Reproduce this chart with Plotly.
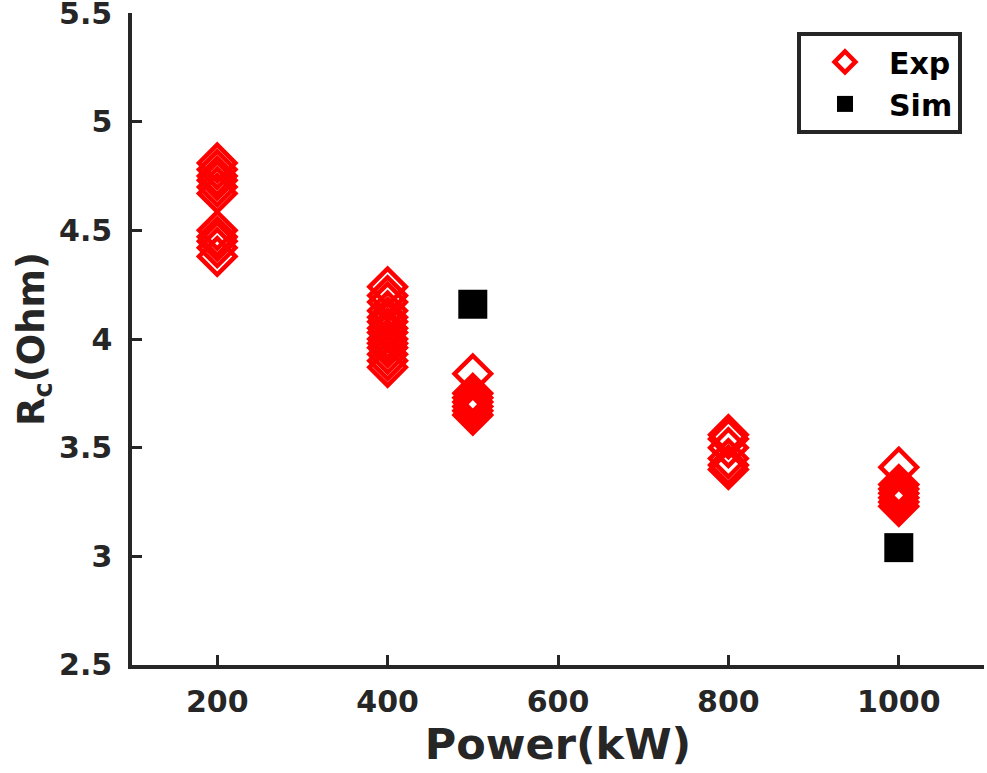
import plotly.graph_objects as go

# Experimental data (Power in kW, Rc in Ohm)
exp_power = ([200] * 11 + [400] * 14 + [500] * 7 + [800] * 6 + [1000] * 7)
exp_rc = [4.81, 4.78, 4.75, 4.73, 4.70, 4.67, 4.50, 4.47, 4.45, 4.42, 4.38,
          4.24, 4.20, 4.17, 4.13, 4.10, 4.08, 4.05, 4.03, 4.00, 3.98, 3.96, 3.93, 3.90, 3.87,
          3.84, 3.75, 3.73, 3.71, 3.69, 3.67, 3.65,
          3.56, 3.54, 3.50, 3.45, 3.42, 3.40,
          3.41, 3.33, 3.31, 3.29, 3.27, 3.25, 3.23]

# Simulation data
sim_power = [500, 1000]
sim_rc = [4.16, 3.04]

x_ticks = [200, 400, 600, 800, 1000]
y_ticks = [2.5, 3, 3.5, 4, 4.5, 5, 5.5]
y_ticktext = ["2.5", "3", "3.5", "4", "4.5", "5", "5.5"]

axis_color = "#262626"
font_family = "DejaVu Sans"

fig = go.Figure()
fig.add_trace(go.Scatter(
    x=exp_power, y=exp_rc, mode="markers", name="Exp",
    marker=dict(symbol="diamond-open", size=28, color="#ff0000",
                line=dict(width=4.5, color="#ff0000")),
))
fig.add_trace(go.Scatter(
    x=sim_power, y=sim_rc, mode="markers", name="Sim",
    marker=dict(symbol="square", size=29, color="#000000",
                line=dict(width=0)),
))

fig.update_layout(
    width=987, height=773,
    margin=dict(l=132, r=3, t=13, b=108),
    plot_bgcolor="white", paper_bgcolor="white",
    font=dict(family=font_family, color=axis_color, weight="bold"),
    legend=dict(
        x=0.7805, y=0.971, xanchor="left", yanchor="top",
        bordercolor=axis_color, borderwidth=4, bgcolor="white",
        font=dict(family=font_family, size=30, color="#000000", weight="bold"),
        itemwidth=78, tracegroupgap=0,
    ),
    xaxis=dict(
        range=[100, 1100], tickvals=x_ticks, automargin=False,
        showline=True, linewidth=3.5, linecolor=axis_color, mirror=False,
        ticks="inside", ticklen=10, tickwidth=3, tickcolor=axis_color,
        showgrid=False, zeroline=False,
        tickfont=dict(family=font_family, size=30, color=axis_color, weight="bold"),
        ticklabelstandoff=7,
        title=dict(text="Power(kW)", standoff=8,
                   font=dict(family=font_family, size=43, color=axis_color, weight="bold")),
    ),
    yaxis=dict(
        range=[2.4999, 5.5002], tickvals=y_ticks, ticktext=y_ticktext,
        automargin=False,
        showline=True, linewidth=3.5, linecolor=axis_color, mirror=False,
        ticks="inside", ticklen=10, tickwidth=3, tickcolor=axis_color,
        showgrid=False, zeroline=False, ticklabeloverflow="allow",
        tickfont=dict(family=font_family, size=30, color=axis_color, weight="bold"),
        ticklabelstandoff=10,
        title=dict(text="R<sub>c</sub>(Ohm)", standoff=4,
                   font=dict(family=font_family, size=37, color=axis_color, weight="bold")),
    ),
)

fig.write_html("out.html")
